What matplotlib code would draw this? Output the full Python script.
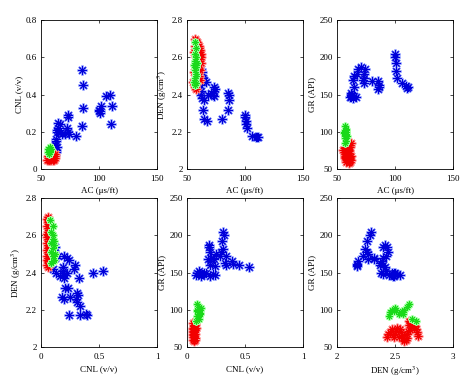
import matplotlib
matplotlib.use("Agg")
import matplotlib.pyplot as plt

plt.rcParams['font.family'] = ['Liberation Serif', 'DejaVu Serif']
plt.rcParams['font.size'] = 6.5
plt.rcParams['mathtext.fontset'] = 'stix'

# blue class: AC, CNL, DEN, GR
blue_ac  = [100, 100, 101, 101, 102, 106, 109, 110, 111,
            85, 86, 86, 85, 80,
            73, 73, 72, 73, 74, 71,
            67, 68, 65, 64, 65, 63, 62,
            62, 63, 62, 64, 63, 61, 64, 65, 66, 62, 63]
blue_cnl = [0.31, 0.32, 0.30, 0.31, 0.34, 0.39, 0.40, 0.24, 0.34,
            0.53, 0.45, 0.33, 0.23, 0.18,
            0.29, 0.28, 0.22, 0.20, 0.19, 0.19,
            0.20, 0.19, 0.25, 0.21, 0.20, 0.16, 0.13,
            0.12, 0.10, 0.11, 0.12, 0.09, 0.08, 0.20, 0.22, 0.24, 0.10, 0.15]
blue_den = [2.29, 2.28, 2.26, 2.24, 2.22, 2.18, 2.17, 2.17, 2.17,
            2.41, 2.40, 2.37, 2.32, 2.27,
            2.44, 2.42, 2.40, 2.39, 2.43, 2.41,
            2.26, 2.40, 2.27, 2.32, 2.37, 2.38, 2.40,
            2.54, 2.52, 2.50, 2.48, 2.47, 2.45, 2.49, 2.48, 2.47, 2.42, 2.49]
blue_gr  = [205, 200, 192, 182, 172, 165, 161, 159, 160,
            157, 160, 163, 168, 168,
            178, 172, 170, 165, 185, 187,
            178, 185, 175, 170, 160, 150, 148,
            147, 148, 150, 146, 149, 147, 146, 148, 147, 152, 149]

# red class
red_ac  = [57, 58, 59, 57, 60, 58, 59, 61, 60, 58, 59, 61, 60, 62, 57, 59,
           60, 61, 56, 58, 60, 59, 61, 55, 57, 62, 60, 58, 61, 59, 56, 62,
           57, 58]
red_cnl = [0.06, 0.05, 0.06, 0.07, 0.05, 0.06, 0.07, 0.06, 0.05, 0.06, 0.07,
           0.05, 0.06, 0.07, 0.05, 0.06, 0.07, 0.06, 0.05, 0.06, 0.07, 0.05,
           0.06, 0.05, 0.06, 0.08, 0.08, 0.07, 0.07, 0.06, 0.07, 0.06,
           0.05, 0.06]
red_den = [2.70, 2.69, 2.68, 2.66, 2.65, 2.64, 2.63, 2.62, 2.61, 2.60, 2.60,
           2.59, 2.58, 2.57, 2.56, 2.55, 2.54, 2.53, 2.52, 2.51, 2.50, 2.49,
           2.48, 2.47, 2.46, 2.62, 2.66, 2.58, 2.64, 2.67, 2.63, 2.60,
           2.44, 2.43]
red_gr  = [65, 70, 75, 80, 82, 78, 84, 80, 72, 68, 62, 60, 58, 62, 66, 70,
           74, 64, 76, 72, 68, 64, 66, 75, 70, 85, 76, 60, 82, 78, 73, 67,
           68, 64]

# green class
green_ac  = [57, 58, 57, 56, 58, 57, 58, 57, 56, 58, 57, 58, 57, 59, 58]
green_cnl = [0.09, 0.10, 0.10, 0.09, 0.11, 0.10, 0.09, 0.10, 0.11, 0.10,
             0.09, 0.10, 0.08, 0.11, 0.12]
green_den = [2.62, 2.60, 2.58, 2.56, 2.55, 2.53, 2.51, 2.49, 2.47, 2.46,
             2.45, 2.65, 2.68, 2.57, 2.50]
green_gr  = [108, 104, 100, 98, 96, 95, 100, 98, 100, 97, 92, 88, 85, 94, 102]

data = {
    'AC':  (blue_ac, red_ac, green_ac),
    'CNL': (blue_cnl, red_cnl, green_cnl),
    'DEN': (blue_den, red_den, green_den),
    'GR':  (blue_gr, red_gr, green_gr),
}
labels = {'AC': 'AC (μs/ft)', 'CNL': 'CNL (v/v)',
          'DEN': 'DEN (g/cm$^3$)', 'GR': 'GR (API)'}
limits = {'AC': (50, 150), 'CNL': (0, 0.8), 'DEN': (2, 2.8), 'GR': (50, 250)}
ticks = {'AC': [50, 100, 150], 'CNL': [0, 0.2, 0.4, 0.6, 0.8],
         'DEN': [2, 2.2, 2.4, 2.6, 2.8], 'GR': [50, 100, 150, 200, 250]}

pairs = [('AC', 'CNL'), ('AC', 'DEN'), ('AC', 'GR'),
         ('CNL', 'DEN'), ('CNL', 'GR'), ('DEN', 'GR')]
# x-limit overrides for bottom row
xlim_over = {'CNL': ((0, 1), [0, 0.5, 1]), 'DEN': ((2, 3), [2, 2.5, 3])}

fig = plt.figure(figsize=(4.74, 3.87), dpi=100)
lefts = [0.0865, 0.3945, 0.711]
bottoms = [0.563, 0.103]
w, h = 0.245, 0.385

# halo colour, main colour, size
styles = [((0.6, 0.65, 1.0), (0, 0, 0.85), 6),
          ((1.0, 0.6, 0.6), (0.95, 0, 0), 5.5),
          ((0.65, 1.0, 0.65), (0.1, 0.85, 0.1), 4.5)]

for i, (xk, yk) in enumerate(pairs):
    ax = fig.add_axes([lefts[i % 3], bottoms[i // 3], w, h])
    for k in range(3):
        halo, col, ms = styles[k]
        ax.plot(data[xk][k], data[yk][k], linestyle='none', marker=(8, 2, 0),
                color=halo, markersize=ms + 1.5, markeredgewidth=1.4)
        ax.plot(data[xk][k], data[yk][k], linestyle='none', marker=(8, 2, 0),
                color=col, markersize=ms, markeredgewidth=0.7)
    if i >= 3 and xk in xlim_over:
        xl, xt = xlim_over[xk]
    else:
        xl, xt = limits[xk], ticks[xk]
    ax.set_xlim(xl)
    ax.set_xticks(xt)
    ax.set_xticklabels([f'{t:g}' for t in xt])
    ax.set_ylim(limits[yk])
    ax.set_yticks(ticks[yk])
    ax.set_yticklabels([f'{t:g}' for t in ticks[yk]])
    ax.set_xlabel(labels[xk], labelpad=3)
    ax.set_ylabel(labels[yk], labelpad=2)
    ax.tick_params(direction='in', top=True, right=True, length=2.5,
                   width=0.5)
    ax.tick_params(axis='x', pad=4)
    ax.tick_params(axis='y', pad=3)
    for s in ax.spines.values():
        s.set_linewidth(0.6)

fig.savefig('out.png', dpi=100)
